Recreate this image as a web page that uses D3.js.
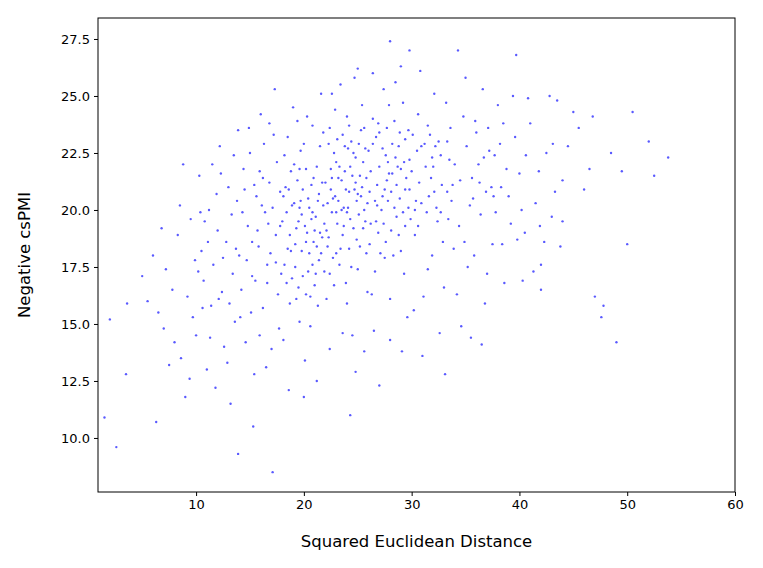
<!DOCTYPE html>
<html><head><meta charset="utf-8">
<script src="https://cdn.jsdelivr.net/npm/d3@7"></script>
<style>body{margin:0;background:#fff}text{font-family:"DejaVu Sans",sans-serif}</style>
</head><body><svg id="c" width="763" height="568"></svg>
<script>
const xTicks=[10,20,30,40,50,60];
const yTicks=[10,12.5,15,17.5,20,22.5,25,27.5];
const outliers=[[1.5,10.9],[2,15.2],[2.6,9.6],[3.5,12.8],[3.6,15.9],[6.3,10.7],[13.9,9.3],[17.1,8.5],[24.3,11],[28,27.4],[34.3,27],[39.7,26.8],[50.5,24.3],[53.8,22.3],[52.5,21.5],[49,14.2],[47.6,15.3],[47,16.2],[50,18.5],[52,23],[48.5,22.5],[45,24.3],[46.5,21.8],[44,19.5],[49.5,21.7],[47.8,15.8]];
const bandLow=[[5,17.1],[5.5,16],[6,18],[6.5,15.5],[7,14.8],[7.2,17.4],[7.8,16.5],[8,14.2],[8.3,18.9],[8.6,13.5],[8.8,22],[9,11.8],[9.2,16.2],[9.5,19.6],[9.7,15.3],[9.9,17.8],[8.5,20.2],[7.5,13.2],[6.8,19.2],[9.4,12.6],
[10,14.5],[10.3,21.5],[10.5,18.2],[10.7,16.9],[11,13],[11.2,20],[11.4,15.8],[11.6,17.6],[11.8,12.2],[12,19.1],[12.2,22.8],[12.4,16.4],[12.6,14],[12.8,18.6],[13,21],[13.2,11.5],[13.4,17.2],[13.6,15.1],[13.8,20.4],[13.9,23.5],[10.8,19.5],[11.5,22],[12.9,13.3],[13.3,19.8],[12.1,16.1],[10.2,17.3],
[10.6,15.7],[11.1,18.6],[11.9,20.7],[12.5,17.9],[13.1,15.9],[13.7,18.3],[12.3,21.6],[11.3,14.4],[10.4,19.9],[13.5,22.4]];
const bandMid=[[14,18],[14.2,16.5],[14.4,21.8],[14.6,14.2],[14.8,19.3],[15,22.5],[15.2,17.1],[15.4,12.8],[15.6,20.6],[15.8,18.4],[16,24.2],[16.2,15.7],[16.4,19.9],[16.6,17.6],[16.8,21.2],[17,13.9],[17.2,23.3],[17.4,18.9],[17.6,16.3],[17.8,20.8],[14.3,19.9],[15.1,15.5],[15.9,21.7],[16.5,13.1],[17.3,25.3],[17.9,17.2],[14.9,23.6],[16.1,20.2],[16.9,18.1],[17.5,22.1],[15.5,16.9],[14.7,17.8],[16.3,22.9],[17.7,14.8],[15.3,10.5],[16.7,19.4],
[14.5,20.9],[15.7,19.1],[16.6,16.8],[17.1,20.1],[15.2,18.6],[16.2,21.4],[17.4,17.7],[14.1,15.3],[15.9,14.5],[17.8,19.3],[16.8,23.8],[15.4,21.1],
[18,19.5],[18.2,22.4],[18.4,16.8],[18.6,20.9],[18.8,18.2],[19,24.5],[19.2,17.5],[19.4,21.3],[19.6,15.1],[19.8,19.8],[20,22.9],[20.2,18.6],[20.4,20.5],[20.6,16.2],[20.8,23.7],[21,19.1],[21.2,21.9],[21.4,17.8],[21.6,25.1],[21.8,20.2],[18.1,14.3],[18.5,23.2],[18.9,17],[19.3,19.2],[19.7,22.6],[20.1,13.4],[20.5,18.1],[20.9,21.4],[21.3,15.8],[21.7,18.8],[18.3,21],[18.7,18.9],[19.1,20.3],[19.5,16.6],[19.9,20.9],[20.3,24.1],[20.7,19.6],[21.1,17.2],[21.5,22.8],[21.9,19.4],[18.6,12.1],[19.4,23.9],[20.6,14.9],[21.4,20.7],[19.8,18.2],[20.2,21.8],[21,16.7],[18.4,19.9],[19.6,21.8],[20.8,19.9],[21.8,23.4],[20,11.8],[21.2,12.5],
[18.2,17.6],[18.9,20.2],[19.2,18.5],[19.7,20.4],[20.1,19.3],[20.4,17.3],[20.9,18.6],[21.3,20.4],[21.6,18.1],[18.5,18.3],[19.1,22],[19.9,17.1],[20.5,20.1],[21.1,19.7],[21.7,21.2],[18.8,21.7],[19.5,19.5],[20.3,19],[20.7,21.1],[21.5,19],[19.3,16.1],[20.8,17.6],[21.9,17.3],[18.1,20.6],[19.6,20.1],[20.2,16.3],[21.2,18.4],[18.7,15.9]];
const bandCore=[[22,21.2],[22.2,18.4],[22.4,23.6],[22.6,19.9],[22.8,16.7],[23,22.1],[23.2,20.4],[23.4,25.5],[23.6,18.9],[23.8,21.7],[24,15.9],[24.2,20.8],[24.4,23],[24.6,19.2],[24.8,22.3],[25,17.4],[25.2,21.5],[25.4,24.6],[25.6,20],[25.8,18.1],[22.1,16.1],[22.5,20.9],[22.9,24.4],[23.3,17.6],[23.7,20.1],[24.1,22.7],[24.5,14.5],[24.9,20.4],[25.3,23.5],[25.7,19.5],[22.3,22.9],[22.7,17.9],[23.1,19.4],[23.5,21.3],[23.9,16.8],[24.3,21.9],[24.7,25.8],[25.1,19.8],[25.5,22.1],[25.9,16.4],[22.4,13.9],[23.6,14.6],[24.8,12.9],[25.6,13.8],[22.6,25.1],[24,24.1],[25,26.2],[23,19.9],[24.2,18.3],[25.4,21],[22.2,20.3],[23.8,22.8],[25.8,21.4],
[22.1,19.1],[22.5,21.8],[22.9,20.6],[23.3,21.9],[23.7,19.3],[24.1,20.1],[24.5,21.5],[24.9,18.7],[25.3,20.6],[25.7,22.7],[22.3,18.8],[22.7,20.5],[23.1,23.1],[23.5,20],[23.9,20.9],[24.3,19.6],[24.7,20.9],[25.1,22.9],[25.5,19.2],[25.9,20.3],[22.8,22.5],[23.4,18.3],[24.4,17.5],[24.6,22.5],[25.2,18.4],[22.4,17.2],[23.2,21.4],[24,19.9],[24.8,21.2],[25.6,23.6],[23.6,23.3],[22.6,21.4],[24.2,23.7],[25,20.7],[23,18.1],
[26,22.6],[26.2,19.4],[26.4,24],[26.6,17.3],[26.8,21.1],[27,23.4],[27.2,20],[27.4,25.3],[27.6,18.6],[27.8,22.1],[28,16.1],[28.2,21.6],[28.4,23.9],[28.6,19.7],[28.8,22.8],[29,18.2],[29.2,24.7],[29.4,20.9],[29.6,15.3],[29.8,22.2],[26.1,20.8],[26.5,14.7],[26.9,19],[27.3,22.7],[27.7,21.3],[28.1,19.1],[28.5,25.6],[28.9,20.5],[29.3,17.2],[29.7,23.5],[26.3,16.3],[26.7,23.2],[27.1,18.1],[27.5,20.9],[27.9,24.6],[28.3,18],[28.7,21.9],[29.1,13.8],[29.5,21.4],[29.9,19.6],[27,12.3],[28,14.3],[26.4,26],[29,26.3],[27.6,22.4],[26.8,20.2],[29.4,23.1],
[26.2,21.7],[26.6,20.4],[27,21.9],[27.4,19.4],[27.8,20.4],[28.2,22.9],[28.6,21.1],[29,21.8],[29.4,19.3],[29.8,20.9],[26.4,22.9],[26.9,23.8],[27.3,20.6],[27.7,23.6],[28.1,20.8],[28.5,22.3],[28.9,23.4],[29.3,22.1],[29.7,20.1],[26.1,18.5],[27.5,17.9],[28.4,20.1],[29.2,19.9],[26.7,19.5],[27.9,21.6],[28.8,18.9]];
const bandHigh=[[30,21.7],[30.3,18.9],[30.6,24.2],[30.9,20.3],[31.2,22.9],[31.5,17.4],[31.8,21.4],[32.1,25.1],[32.4,19.5],[32.7,22.4],[33,16.6],[33.3,20.8],[33.6,23.6],[33.9,18.3],[30.2,15.6],[30.8,26.1],[31.4,19.9],[32,21.9],[32.6,14.6],[33.2,24.7],[33.8,21.1],[30.5,22.6],[31.1,16.2],[31.7,23.3],[32.3,20.1],[32.9,18.6],[33.5,22.2],[29.8,27],[31,13.6],[33.1,12.8],[30.4,20.4],[32.5,23],[31.9,18],
[30.1,23.3],[30.7,21.2],[31.3,21.9],[31.6,20.6],[32.2,22.8],[32.8,21.1],[33.4,19.6],[30.3,20],[30.9,22.8],[31.5,23.7],[32.1,20.8],[32.7,19.9],[33.3,23],[30.6,19.3],[31.9,22.3],[33.7,20.4],
[34,22],[34.4,19.3],[34.8,24.1],[35.2,17.5],[35.6,21.4],[36,23.4],[36.4,19.8],[36.8,15.9],[37.2,22.6],[37.6,20.6],[38,24.6],[38.4,18.5],[38.8,21.8],[39.2,19.4],[39.6,23.2],[34.6,14.9],[35,25.8],[35.4,20.2],[35.8,18],[36.2,22],[36.6,25.3],[37,17.2],[37.4,21],[37.8,19.9],[38.2,22.9],[38.6,16.8],[39,20.6],[39.4,25],[39.8,18.7],[34.2,16.3],[35.5,14.4],[36.5,14.1],[37.5,18.5],[38.5,23.8],[36.9,20.8],
[34.5,21.3],[35.1,22.8],[35.7,20.5],[36.3,21.2],[37.1,23.6],[34.9,18.6],[35.9,23.9],[36.7,22.3],[37.7,22.4],[38.3,21],
[40,21.6],[40.5,19],[41,23.8],[41.5,20.3],[42,17.6],[42.5,22.5],[43,19.7],[43.5,24.8],[44,21.3],[44.5,22.8],[40.3,16.9],[40.8,24.9],[41.3,17.3],[41.8,21.7],[42.3,18.6],[42.8,25],[43.3,20.8],[43.8,18.4],[45.5,23.6],[46,20.9],[46.8,24.1],[40.6,22.4],[41.9,19.3],[43.1,22.9],[42,16.5],[40.2,20]];
const points=[].concat(outliers,bandLow,bandMid,bandCore,bandHigh);

const svg=d3.select("#c");
const L=98,R=735,T=18,B=492;
const x=d3.scaleLinear().domain([0.9,60]).range([L,R]);
const y=d3.scaleLinear().domain([7.63,28.42]).range([B,T]);
svg.append("g").selectAll("circle").data(points).enter().append("circle")
 .attr("cx",d=>x(d[0])).attr("cy",d=>y(d[1])).attr("r",1.2)
 .attr("fill","#0000ff").attr("fill-opacity",0.65);
const gx=svg.append("g").attr("transform",`translate(0,${B})`)
 .call(d3.axisBottom(x).tickValues(xTicks).tickSize(4).tickPadding(4).tickFormat(d3.format("d")));
const gy=svg.append("g").attr("transform",`translate(${L},0)`)
 .call(d3.axisLeft(y).tickValues(yTicks).tickSize(4).tickPadding(4).tickFormat(d3.format(".1f")));
[gx,gy].forEach(g=>{g.select(".domain").remove();g.selectAll("text").attr("font-size",13).attr("fill","#000").style("font-family","DejaVu Sans");g.selectAll("line").attr("stroke","#000");});
svg.append("rect").attr("x",L).attr("y",T).attr("width",R-L).attr("height",B-T).attr("fill","none").attr("stroke","#000").attr("stroke-width",1);
svg.append("text").attr("x",(L+R)/2).attr("y",547).attr("text-anchor","middle").attr("font-size",16.5).text("Squared Euclidean Distance");
svg.append("text").attr("transform",`translate(30,${(T+B)/2}) rotate(-90)`).attr("text-anchor","middle").attr("font-size",16.5).text("Negative csPMI");
</script></body></html>
